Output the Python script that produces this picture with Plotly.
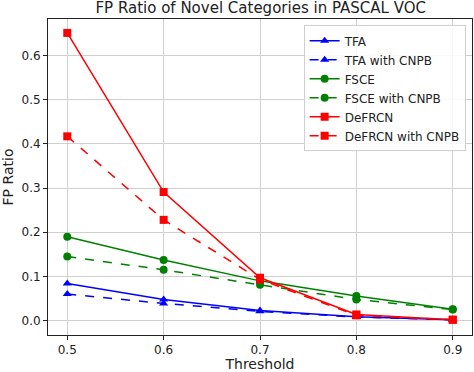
import plotly.graph_objects as go

thresholds = [0.5, 0.6, 0.7, 0.8, 0.9]
tfa = [0.084, 0.048, 0.023, 0.009, 0.002]
tfa_cnpb = [0.060, 0.039, 0.021, 0.008, 0.002]
fsce = [0.190, 0.137, 0.090, 0.056, 0.026]
fsce_cnpb = [0.145, 0.115, 0.081, 0.048, 0.025]
defrcn = [0.651, 0.291, 0.097, 0.014, 0.002]
defrcn_cnpb = [0.417, 0.228, 0.093, 0.012, 0.002]

series = [
    ("TFA", tfa, "blue", "solid", "triangle-up"),
    ("TFA with CNPB", tfa_cnpb, "blue", "dash", "triangle-up"),
    ("FSCE", fsce, "green", "solid", "circle"),
    ("FSCE with CNPB", fsce_cnpb, "green", "dash", "circle"),
    ("DeFRCN", defrcn, "red", "solid", "square"),
    ("DeFRCN with CNPB", defrcn_cnpb, "red", "dash", "square"),
]

fig = go.Figure()
for name, vals, color, dash, sym in series:
    fig.add_trace(go.Scatter(
        x=thresholds, y=vals, name=name, mode="lines+markers",
        line=dict(color=color, width=1.5, dash=dash),
        marker=dict(color=color, symbol=sym, size=8),
    ))

font = "DejaVu Sans, sans-serif"
fig.update_layout(
    width=474, height=372,
    margin=dict(l=48, r=2, t=19, b=37),
    paper_bgcolor="white", plot_bgcolor="white",
    font=dict(family=font, size=12, color="#222"),
    title=dict(text="FP Ratio of Novel Categories in PASCAL VOC",
               x=0.55, xanchor="center", y=1 - 8 / 372, yanchor="middle",
               yref="container", font=dict(size=15, color="#222")),
    legend=dict(x=0.985, y=0.98, xanchor="right", yanchor="top",
                bgcolor="rgba(255,255,255,0.85)", bordercolor="#d0d0d0",
                borderwidth=1, font=dict(size=12), tracegroupgap=0,
                itemwidth=30),
    showlegend=True,
)
fig.update_xaxes(
    range=[0.48, 0.92], tickvals=thresholds,
    ticktext=["0.5", "0.6", "0.7", "0.8", "0.9"],
    showgrid=True, gridcolor="#cfcfcf", gridwidth=1,
    showline=True, linecolor="#222", linewidth=1, mirror=True,
    ticks="outside", ticklen=4, tickcolor="#222", zeroline=False,
    title=dict(text="Threshold", font=dict(size=14), standoff=4),
)
fig.update_yaxes(
    range=[-0.0325, 0.6825], tickvals=[0, 0.1, 0.2, 0.3, 0.4, 0.5, 0.6],
    ticktext=["0.0", "0.1", "0.2", "0.3", "0.4", "0.5", "0.6"],
    showgrid=True, gridcolor="#cfcfcf", gridwidth=1,
    showline=True, linecolor="#222", linewidth=1, mirror=True,
    ticks="outside", ticklen=4, tickcolor="#222", zeroline=False,
    title=dict(text="FP Ratio", font=dict(size=14), standoff=6),
)
fig.write_html(
    "out.html",
    config={"displayModeBar": False},
    post_script="document.body.style.margin='0';document.body.style.overflow='hidden';",
)
